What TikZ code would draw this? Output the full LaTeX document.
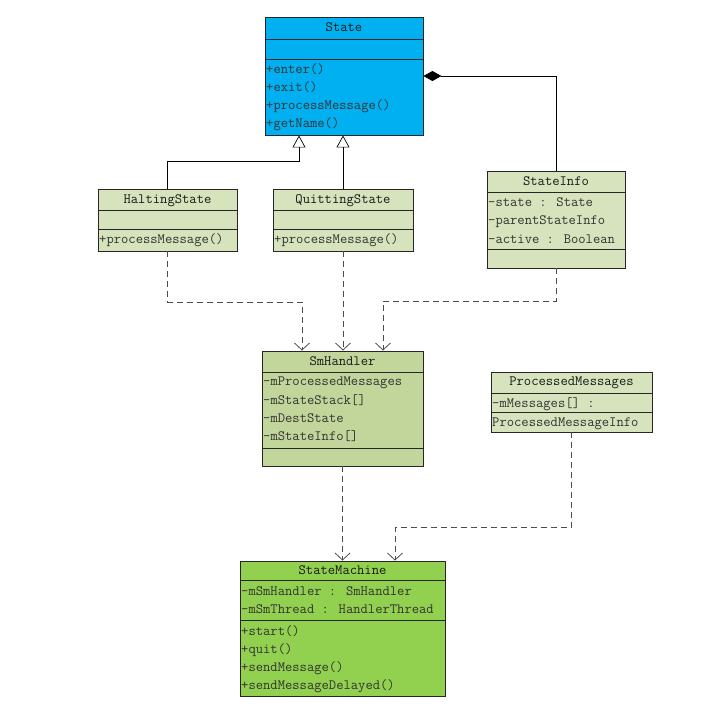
\documentclass[tikz,border=0pt]{standalone}
\usepackage{fontspec}
\usetikzlibrary{arrows.meta}
\definecolor{stateblue}{HTML}{00B0F0}
\definecolor{palegreen}{HTML}{D6E3BC}
\definecolor{olivegreen}{HTML}{C2D69B}
\definecolor{brightgreen}{HTML}{92D050}
\tikzset{%
  % boxes and texts of the classes
    classbox/.style = {rectangle, draw=black!85, line width=0.9pt, inner sep=0pt},
       title/.style = {inner sep=0pt, text height=9pt, text depth=3pt, text=black!90,
                       font=\ttfamily\fontsize{14.2}{16}\selectfont},
      member/.style = {title, anchor=west, text=black!80},
         sep/.style = {draw=black!85, line width=0.9pt},
  % connectors
     inherit/.style = {draw=black, line width=0.7pt, -{Triangle[open,length=12pt,width=13pt]}},
      depend/.style = {draw=black!70, line width=0.8pt, dash pattern=on 6pt off 4pt,
                       -{Straight Barb[length=7pt,width=15pt]}},
     compose/.style = {draw=black, line width=0.7pt, {Diamond[length=18pt,width=10pt]}-},
}

\begin{document}
\begin{tikzpicture}[x=1pt, y=-1pt]
    \useasboundingbox (0,0) rectangle (726,705);

    % State
    \node (state) [classbox, fill=stateblue, minimum width=158pt, minimum height=118pt] at (344,76) {};
    \draw [sep] ([yshift=-23pt]state.north west) -- ([yshift=-23pt]state.north east);
    \draw [sep] ([yshift=-43pt]state.north west) -- ([yshift=-43pt]state.north east);
    \node (stateT) [title] at (344,28) {State};
    \node (stateM1) [member] at (266,70) {+enter()};
    \node (stateM2) [member] at (266,88) {+exit()};
    \node (stateM3) [member] at (266,106) {+processMessage()};
    \node (stateM4) [member] at (266,124) {+getName()};

    % HaltingState
    \node (halting) [classbox, fill=palegreen, minimum width=139pt, minimum height=62pt] at (167.5,220) {};
    \draw [sep] ([yshift=-22pt]halting.north west) -- ([yshift=-22pt]halting.north east);
    \draw [sep] ([yshift=-41pt]halting.north west) -- ([yshift=-41pt]halting.north east);
    \node (haltingT) [title] at (167.5,200) {HaltingState};
    \node (haltingM1) [member] at (99,240) {+processMessage()};

    % QuittingState
    \node (quitting) [classbox, fill=palegreen, minimum width=140pt, minimum height=62pt] at (343,220) {};
    \draw [sep] ([yshift=-22pt]quitting.north west) -- ([yshift=-22pt]quitting.north east);
    \draw [sep] ([yshift=-41pt]quitting.north west) -- ([yshift=-41pt]quitting.north east);
    \node (quittingT) [title] at (343,200) {QuittingState};
    \node (quittingM1) [member] at (274,240) {+processMessage()};

    % StateInfo
    \node (stateinfo) [classbox, fill=palegreen, minimum width=138pt, minimum height=97pt] at (556,219.5) {};
    \draw [sep] ([yshift=-22pt]stateinfo.north west) -- ([yshift=-22pt]stateinfo.north east);
    \draw [sep] ([yshift=-79pt]stateinfo.north west) -- ([yshift=-79pt]stateinfo.north east);
    \node (stateinfoT) [title] at (556,182) {StateInfo};
    \node (stateinfoA1) [member] at (488,203) {-state : State};
    \node (stateinfoA2) [member] at (488,221) {-parentStateInfo};
    \node (stateinfoA3) [member] at (488,240) {-active : Boolean};

    % SmHandler
    \node (smhandler) [classbox, fill=olivegreen, minimum width=161pt, minimum height=115pt] at (342.5,408.5) {};
    \draw [sep] ([yshift=-22pt]smhandler.north west) -- ([yshift=-22pt]smhandler.north east);
    \draw [sep] ([yshift=-98pt]smhandler.north west) -- ([yshift=-98pt]smhandler.north east);
    \node (smhandlerT) [title] at (342.5,362) {SmHandler};
    \node (smhandlerA1) [member] at (263,382) {-mProcessedMessages};
    \node (smhandlerA2) [member] at (263,401) {-mStateStack[]};
    \node (smhandlerA3) [member] at (263,419) {-mDestState};
    \node (smhandlerA4) [member] at (263,437) {-mStateInfo[]};

    % ProcessedMessages
    \node (procmsg) [classbox, fill=palegreen, minimum width=161pt, minimum height=60pt] at (571.5,402) {};
    \draw [sep] ([yshift=-22pt]procmsg.north west) -- ([yshift=-22pt]procmsg.north east);
    \draw [sep] ([yshift=-41pt]procmsg.north west) -- ([yshift=-41pt]procmsg.north east);
    \node (procmsgT) [title] at (571.5,382) {ProcessedMessages};
    \node (procmsgA1) [member] at (492,404) {-mMessages[] :};
    \node (procmsgA2) [member] at (492,423) {ProcessedMessageInfo};

    % StateMachine
    \node (machine) [classbox, fill=brightgreen, minimum width=205pt, minimum height=135pt] at (342.5,628.5) {};
    \draw [sep] ([yshift=-20pt]machine.north west) -- ([yshift=-20pt]machine.north east);
    \draw [sep] ([yshift=-60pt]machine.north west) -- ([yshift=-60pt]machine.north east);
    \node (machineT) [title] at (342.5,571) {StateMachine};
    \node (machineA1) [member] at (241,592) {-mSmHandler : SmHandler};
    \node (machineA2) [member] at (241,610) {-mSmThread : HandlerThread};
    \node (machineM1) [member] at (241,632) {+start()};
    \node (machineM2) [member] at (241,650) {+quit()};
    \node (machineM3) [member] at (241,668) {+sendMessage()};
    \node (machineM4) [member] at (241,686) {+sendMessageDelayed()};

    % generalization and composition
    \draw [inherit] (halting.north) -- ++(0,-27) -| ([xshift=-45pt]state.south);
    \draw [inherit] (quitting.north) -- (quitting.north |- state.south);
    \draw [compose] (state.east) -| (stateinfo.north);

    % dependencies
    \draw [depend] (halting.south) -- ++(0,51) -| ([xshift=-40.5pt]smhandler.north);
    \draw [depend] (quitting.south) -- (quitting.south |- smhandler.north);
    \draw [depend] (stateinfo.south) -- ++(0,33) -| ([xshift=40.5pt]smhandler.north);
    \draw [depend] (smhandler.south) -- (machine.north);
    \draw [depend] (procmsg.south) -- ++(0,95) -| ([xshift=52.5pt]machine.north);
\end{tikzpicture}
\end{document}
